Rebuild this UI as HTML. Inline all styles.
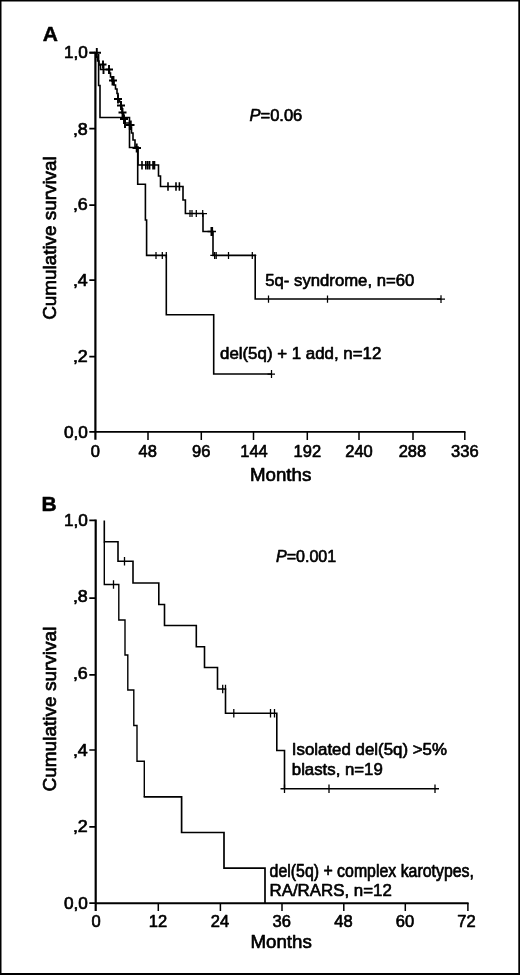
<!DOCTYPE html>
<html>
<head>
<meta charset="utf-8">
<title>Cumulative survival</title>
<style>
html,body{margin:0;padding:0;background:#fff;}
body{width:520px;height:975px;overflow:hidden;}
svg{display:block;}
text{font-family:"Liberation Sans",Arial,Helvetica,sans-serif;fill:#000;stroke:#000;stroke-width:0.65px;stroke-linejoin:round;}
.t{font-size:16.5px;}
.y{font-size:16.2px;stroke-width:0.7px;}
.x{stroke-width:0.7px;}
.h{font-size:18.7px;stroke-width:0.7px;}
.b{font-size:21px;font-weight:bold;stroke-width:0.5px;}
.ax{stroke:#000;fill:none;}
.c{stroke:#000;fill:none;stroke-width:1.6;}
.k{stroke:#000;fill:none;stroke-width:1.6;}
</style>
</head>
<body>
<svg width="520" height="975" viewBox="0 0 520 975">
<rect x="0" y="0" width="520" height="975" fill="#fff"/>
<!-- frame -->
<path d="M0,0H520V975H0Z M1.5,1.6V973.1H518.3V1.6Z" fill="#000" fill-rule="evenodd"/>

<!-- ===== Panel A ===== -->
<text class="b" x="42.8" y="41.2">A</text>
<g class="ax">
<path d="M95.4,51.8V439.8" stroke-width="2.2"/>
<path d="M95,431.9H465.5" stroke-width="1.9"/>
<path d="M89.3,52.6H95 M89.3,128.6H95 M89.3,205.1H95 M89.3,280.2H95 M89.3,356.6H95 M89.3,431.8H95" stroke-width="1.7"/>
<path d="M148,432V440 M201.3,432V440 M253.5,432V440 M307.3,432V440 M359,432V440 M413,432V440 M464.8,432V440" stroke-width="1.5"/>
</g>
<g class="t y" text-anchor="end">
<text x="87.8" y="58.1" textLength="23.9" lengthAdjust="spacingAndGlyphs">1,0</text>
<text x="87.8" y="134.5" textLength="14.9" lengthAdjust="spacingAndGlyphs">,8</text>
<text x="87.8" y="209.8" textLength="14.9" lengthAdjust="spacingAndGlyphs">,6</text>
<text x="87.8" y="285.5" textLength="14.9" lengthAdjust="spacingAndGlyphs">,4</text>
<text x="87.8" y="361.5" textLength="14.9" lengthAdjust="spacingAndGlyphs">,2</text>
<text x="87.8" y="437.6" textLength="23.9" lengthAdjust="spacingAndGlyphs">0,0</text>
</g>
<g class="t x" text-anchor="middle">
<text x="95.3" y="456.7">0</text>
<text x="147.8" y="456.7">48</text>
<text x="201.3" y="456.7">96</text>
<text x="254" y="456.7">144</text>
<text x="307.3" y="456.7">192</text>
<text x="359" y="456.7">240</text>
<text x="412.4" y="456.7">288</text>
<text x="464.8" y="456.7">336</text>
</g>
<text class="h" x="250" y="480.8">Months</text>
<text class="h" transform="translate(56.3,319.8) rotate(-90)" textLength="163.5" lengthAdjust="spacingAndGlyphs">Cumulative survival</text>
<text class="t" x="249.5" y="120.8"><tspan font-style="italic">P</tspan>=0.06</text>
<text class="t" x="265.3" y="286.4" textLength="149" lengthAdjust="spacingAndGlyphs">5q- syndrome, n=60</text>
<text class="t" x="220" y="359.2" textLength="161.3" lengthAdjust="spacingAndGlyphs">del(5q) + 1 add, n=12</text>

<!-- curve A upper: 5q- syndrome -->
<path class="c" d="M96.5,52.5V57H97.5V61H99V65H100.5V69.5H109.5V73H110.5V77H112V81H114V85H115.5V89H117V93.5H118V99H119.5V102H121V107H122V113H123.5V118H125V123H130V127H131.5V133H133V140H135V147H138V165H158.5V176H160.5V186.5H183V200H185.4V213.5H203V231.5H213V255.4H255.2V299H441"/>
<!-- curve A lower: del(5q)+1 add -->
<path class="c" d="M98.6,54V85.5H100V117.5H129.5V147.5H137.7V184.3H145.4V220H146.6V255.4H166.3V314.8H213.7V374H271.5"/>
<!-- censor marks A -->
<path class="k" style="stroke-width:1.9" d="M89.5,52.8H101 M96.8,48V58
M99.5,64.5H106.5 M103,60.5V68.5 M103.5,65V74
M105.5,69.5H113 M109,65V74
M109,80.5H117 M112.5,76V85.5 M113.5,76V85.5
M114,99H122 M118,94.5V103.5
M117,105.5H125 M121,101V110
M118.5,112.5H126.5 M122.5,108V117
M120,119H128 M124,114.5V124 M125,119V128
M126,125H134.5 M129.8,120.5V130 M130.8,120.5V130
M132.5,148H141 M136.7,143.5V152.5"/>
<path class="k" d="M142,161V169.5 M145.8,161V169.5 M147.7,161V169.5 M149.6,161V169.5 M153,161V169.5 M154.5,161V169.5
M168,182.3V190.8 M176,182.3V190.8 M179.4,182.3V190.8"/>
<path class="k" style="stroke-width:1.25" d="M190,210V217 M192,210V217 M196.3,210V217 M202.7,210V217 M203,213.5H207
M214.6,252V259 M216.2,252V259 M228.5,252V259 M252.3,252V259 M210.3,255.4H214 M254,255.4H256.3
M268.5,295.4V302.8 M327.5,295.4V302.8 M441,295.2V303 M437,299H445
M156,252V259 M162.3,252V259 M166.3,252V258
M271.5,370V378 M267.5,374H275"/>
<path class="k" d="M207.5,231.5H216 M211.3,227V236 M212.3,227V236"/>

<!-- ===== Panel B ===== -->
<text class="b" x="41.4" y="510.7">B</text>
<g class="ax">
<path d="M95.7,519.6V911" stroke-width="2.2"/>
<path d="M95.5,903.2H468.6" stroke-width="1.9"/>
<path d="M89.3,520.4H95.5 M89.3,598.1H95.5 M89.3,674.9H95.5 M89.3,750H95.5 M89.3,826.8H95.5 M89.3,903.2H95.5" stroke-width="1.7"/>
<path d="M158.3,903V911 M220.4,903V911 M282,903V911 M343.8,903V911 M405.3,903V911 M467.9,903V911" stroke-width="1.5"/>
</g>
<g class="t y" text-anchor="end">
<text x="87.8" y="525.5" textLength="23.9" lengthAdjust="spacingAndGlyphs">1,0</text>
<text x="87.8" y="602.4" textLength="14.9" lengthAdjust="spacingAndGlyphs">,8</text>
<text x="87.8" y="679.4" textLength="14.9" lengthAdjust="spacingAndGlyphs">,6</text>
<text x="87.8" y="755.5" textLength="14.9" lengthAdjust="spacingAndGlyphs">,4</text>
<text x="87.8" y="832.3" textLength="14.9" lengthAdjust="spacingAndGlyphs">,2</text>
<text x="87.8" y="908.8" textLength="23.9" lengthAdjust="spacingAndGlyphs">0,0</text>
</g>
<g class="t x" text-anchor="middle">
<text x="96" y="926.8">0</text>
<text x="158" y="926.8">12</text>
<text x="220" y="926.8">24</text>
<text x="281.8" y="926.8">36</text>
<text x="343.5" y="926.8">48</text>
<text x="405" y="926.8">60</text>
<text x="466.5" y="926.8">72</text>
</g>
<text class="h" x="250.5" y="947.6">Months</text>
<text class="h" transform="translate(56.4,791.6) rotate(-90)" textLength="165" lengthAdjust="spacingAndGlyphs">Cumulative survival</text>
<text class="t" x="276" y="562" textLength="60.2" lengthAdjust="spacingAndGlyphs"><tspan font-style="italic">P</tspan>=0.001</text>
<text class="t" x="291.8" y="755.3" textLength="155.2" lengthAdjust="spacingAndGlyphs">Isolated del(5q) &gt;5%</text>
<text class="t" x="291.8" y="775.3" textLength="91" lengthAdjust="spacingAndGlyphs">blasts, n=19</text>
<text class="t" transform="translate(269.6,876.6) scale(1,1.1)" textLength="204.3" lengthAdjust="spacingAndGlyphs">del(5q) + complex karotypes,</text>
<text class="t" x="269.5" y="896.2" textLength="122.3" lengthAdjust="spacingAndGlyphs">RA/RARS, n=12</text>

<!-- curve B upper -->
<path class="c" d="M104.3,520.5V541.8H118V561.3H133V583H158.8V604.5H164.5V625.5H196.3V646.8H204.5V667.5H217.5V689H225.5V713.3H276.8V750.5H284.5V788.7H439 M280.5,788.7H285"/>
<!-- curve B lower -->
<path class="c" style="stroke-width:1.4" d="M104.3,541.8V584.5H118.8V620H125V655H127.8V690H133.8V725.5H137V761.3H144.3V796.8"/>
<path class="c" style="stroke-width:1.7" d="M143.6,796.8H181.6V832.5H224V868.2H265V903.5"/>
<path class="k" style="stroke-width:1.3" d="M124.5,557V565.5 M113.5,580.3V588.8
M222.7,684.8V693.2 M225.5,684.8V690
M233.8,709V717.5 M270.5,709V717.5 M274.5,709V717.5
M284.5,784.5V793 M329,784.5V793 M435,784.5V793"/>
</svg>
</body>
</html>
